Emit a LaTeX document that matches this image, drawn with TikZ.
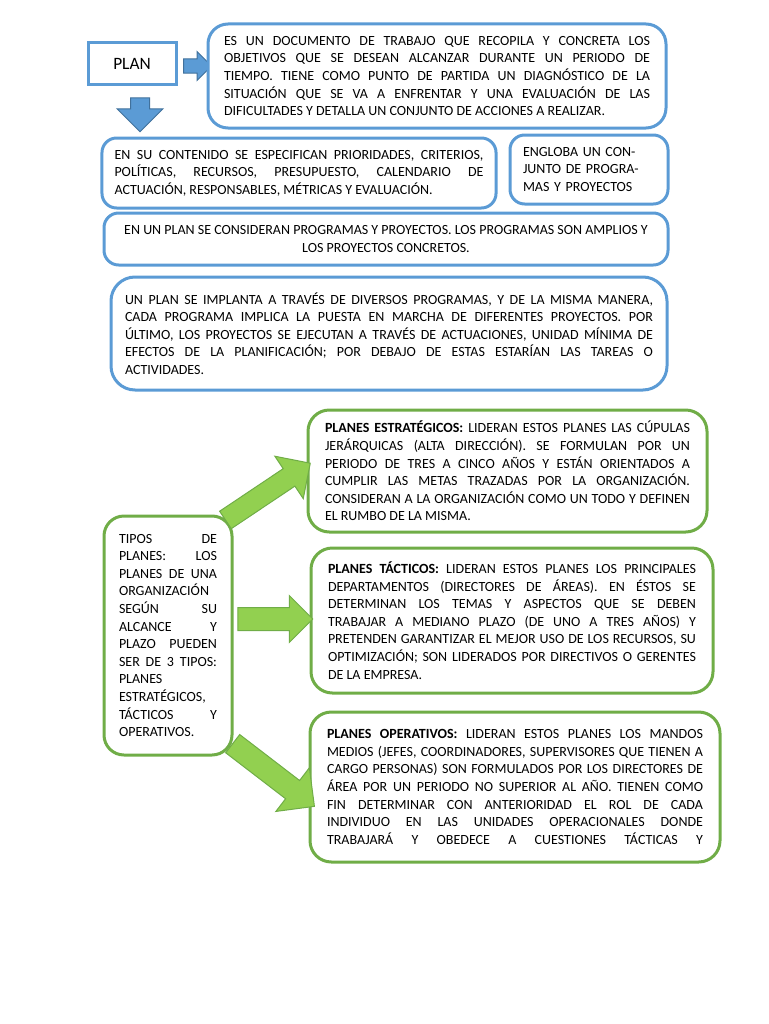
\documentclass[tikz,border=0pt]{standalone}
\usepackage{fontspec}
\setmainfont{Carlito}
\usetikzlibrary{positioning,shapes.arrows}
\definecolor{planBlue}{HTML}{5B9BD5}
\definecolor{planBlueDark}{HTML}{41719C}
\definecolor{planGreen}{HTML}{70AD47}
\definecolor{planLime}{HTML}{92D050}
\tikzset{
  blueBox/.style={rectangle, rounded corners=15pt, fill=white, draw=planBlue, line width=2.25pt, inner ysep=0pt, align=justify},
  greenBox/.style={rectangle, rounded corners=16pt, fill=white, draw=planGreen, line width=2.25pt, inner ysep=0pt, align=justify},
  blueArrow/.style={single arrow, single arrow head indent=0pt, inner xsep=0pt, minimum width=1pt, fill=planBlue, draw=planBlueDark, line width=0.75pt},
  greenArrow/.style={single arrow, single arrow head indent=0pt, inner xsep=0pt, minimum width=1pt, fill=planLime, draw=planGreen, line width=0.75pt}
}

\begin{document}
\begin{tikzpicture}[x=0.75pt, y=-0.75pt, font={\fontsize{10.5}{13.2}\selectfont}]

  \useasboundingbox (0,0) rectangle (768,1024);

  % plan
  \node[rectangle, draw=planBlue, line width=2.25pt, minimum width=66pt, minimum height=31.5pt,
        font=\fontsize{13}{15}\selectfont] (plan) at (132,64) {PLAN};
  \node[blueArrow, minimum height=21pt, inner ysep=4.9pt, single arrow head extend=5.6pt] (toDef) at (194,66) {};
  \node[blueArrow, minimum height=25.5pt, inner ysep=6.75pt, single arrow head extend=10.1pt, rotate=-90] (toContent) at (140,110) {};

  \node[blueBox, text width=319.5pt, inner xsep=12pt, minimum height=78pt] (definition) at (437,76)
    {ES UN DOCUMENTO DE TRABAJO QUE RECOPILA Y CONCRETA LOS\linebreak
     OBJETIVOS QUE SE DESEAN ALCANZAR DURANTE UN PERIODO DE\linebreak
     TIEMPO. TIENE COMO PUNTO DE PARTIDA UN DIAGNÓSTICO DE LA\linebreak
     SITUACIÓN QUE SE VA A ENFRENTAR Y UNA EVALUACIÓN DE LAS\linebreak
     DIFICULTADES Y DETALLA UN CONJUNTO DE ACCIONES A REALIZAR.};

  \node[blueBox, rounded corners=11pt, text width=276.75pt, inner xsep=9.4pt, minimum height=52.5pt] (content) at (299,173)
    {EN SU CONTENIDO SE ESPECIFICAN PRIORIDADES, CRITERIOS,\linebreak
     POLÍTICAS, RECURSOS, PRESUPUESTO, CALENDARIO DE\linebreak
     ACTUACIÓN, RESPONSABLES, MÉTRICAS Y EVALUACIÓN.};

  \node[blueBox, rounded corners=11pt, text width=99pt, inner xsep=9.75pt, minimum height=51.75pt, align=left] (scope) at (589,169.5)
    {ENGLOBA UN CON-\\JUNTO DE PROGRA-\\MAS Y PROYECTOS};

  \node[blueBox, rounded corners=11pt, minimum width=423pt, minimum height=39pt, align=center] (programs) at (386,239)
    {EN UN PLAN SE CONSIDERAN PROGRAMAS Y PROYECTOS. LOS PROGRAMAS SON AMPLIOS Y\\
     LOS PROYECTOS CONCRETOS.};

  \node[blueBox, rounded corners=18pt, text width=396pt, inner xsep=10.5pt, minimum height=84.75pt] (levels) at (389,333.5)
    {UN PLAN SE IMPLANTA A TRAVÉS DE DIVERSOS PROGRAMAS, Y DE LA MISMA MANERA,\linebreak
     CADA PROGRAMA IMPLICA LA PUESTA EN MARCHA DE DIFERENTES PROYECTOS. POR\linebreak
     ÚLTIMO, LOS PROYECTOS SE EJECUTAN A TRAVÉS DE ACTUACIONES, UNIDAD MÍNIMA DE\linebreak
     EFECTOS DE LA PLANIFICACIÓN; POR DEBAJO DE ESTAS ESTARÍAN LAS TAREAS O\linebreak
     ACTIVIDADES.};

  % tipos de planes
  \node[greenBox, rounded corners=15pt, text width=73.5pt, inner xsep=11.25pt, minimum height=179.25pt] (types) at (168,635.5)
    {TIPOS DE\linebreak PLANES: LOS\linebreak PLANES DE UNA\linebreak ORGANIZACIÓN\linebreak
     SEGÚN SU\linebreak ALCANCE Y\linebreak PLAZO PUEDEN\linebreak SER DE 3 TIPOS:\linebreak
     PLANES\linebreak ESTRATÉGICOS,\linebreak TÁCTICOS Y\linebreak OPERATIVOS.};

  \node[greenBox, text width=273.75pt, inner xsep=12.75pt, minimum height=91.5pt] (strategic) at (507.5,471)
    {\textbf{PLANES ESTRATÉGICOS:} LIDERAN ESTOS PLANES LAS CÚPULAS\linebreak
     JERÁRQUICAS (ALTA DIRECCIÓN). SE FORMULAN POR UN\linebreak
     PERIODO DE TRES A CINCO AÑOS Y ESTÁN ORIENTADOS A\linebreak
     CUMPLIR LAS METAS TRAZADAS POR LA ORGANIZACIÓN.\linebreak
     CONSIDERAN A LA ORGANIZACIÓN COMO UN TODO Y DEFINEN\linebreak
     EL RUMBO DE LA MISMA.};

  \node[greenBox, text width=276pt, inner xsep=12.75pt, minimum height=108.75pt] (tactical) at (512,620.5)
    {\textbf{PLANES TÁCTICOS:} LIDERAN ESTOS PLANES LOS PRINCIPALES\linebreak
     DEPARTAMENTOS (DIRECTORES DE ÁREAS). EN ÉSTOS SE\linebreak
     DETERMINAN LOS TEMAS Y ASPECTOS QUE SE DEBEN\linebreak
     TRABAJAR A MEDIANO PLAZO (DE UNO A TRES AÑOS) Y\linebreak
     PRETENDEN GARANTIZAR EL MEJOR USO DE LOS RECURSOS, SU\linebreak
     OPTIMIZACIÓN; SON LIDERADOS POR DIRECTIVOS O GERENTES\linebreak
     DE LA EMPRESA.};

  \node[greenBox, text width=282pt, inner xsep=12.75pt, minimum height=112.5pt] (operative) at (515,787)
    {\textbf{PLANES OPERATIVOS:} LIDERAN ESTOS PLANES LOS MANDOS\linebreak
     MEDIOS (JEFES, COORDINADORES, SUPERVISORES QUE TIENEN A\linebreak
     CARGO PERSONAS) SON FORMULADOS POR LOS DIRECTORES DE\linebreak
     ÁREA POR UN PERIODO NO SUPERIOR AL AÑO. TIENEN COMO\linebreak
     FIN DETERMINAR CON ANTERIORIDAD EL ROL DE CADA\linebreak
     INDIVIDUO EN LAS UNIDADES OPERACIONALES DONDE\linebreak
     \makebox[282pt][s]{TRABAJARÁ Y OBEDECE A CUESTIONES TÁCTICAS Y}};

  \node[greenArrow, minimum height=76.5pt, inner ysep=7.5pt, single arrow head extend=11.25pt, rotate=33.8] (toStrategic) at (263.5,494.5) {};
  \node[greenArrow, minimum height=56.25pt, inner ysep=8.25pt, single arrow head extend=9pt] (toTactical) at (269.5,619) {};
  \node[greenArrow, minimum height=77.25pt, inner ysep=8.25pt, single arrow head extend=12pt, rotate=-37.5] (toOperative) at (269,771.5) {};

\end{tikzpicture}
\end{document}
